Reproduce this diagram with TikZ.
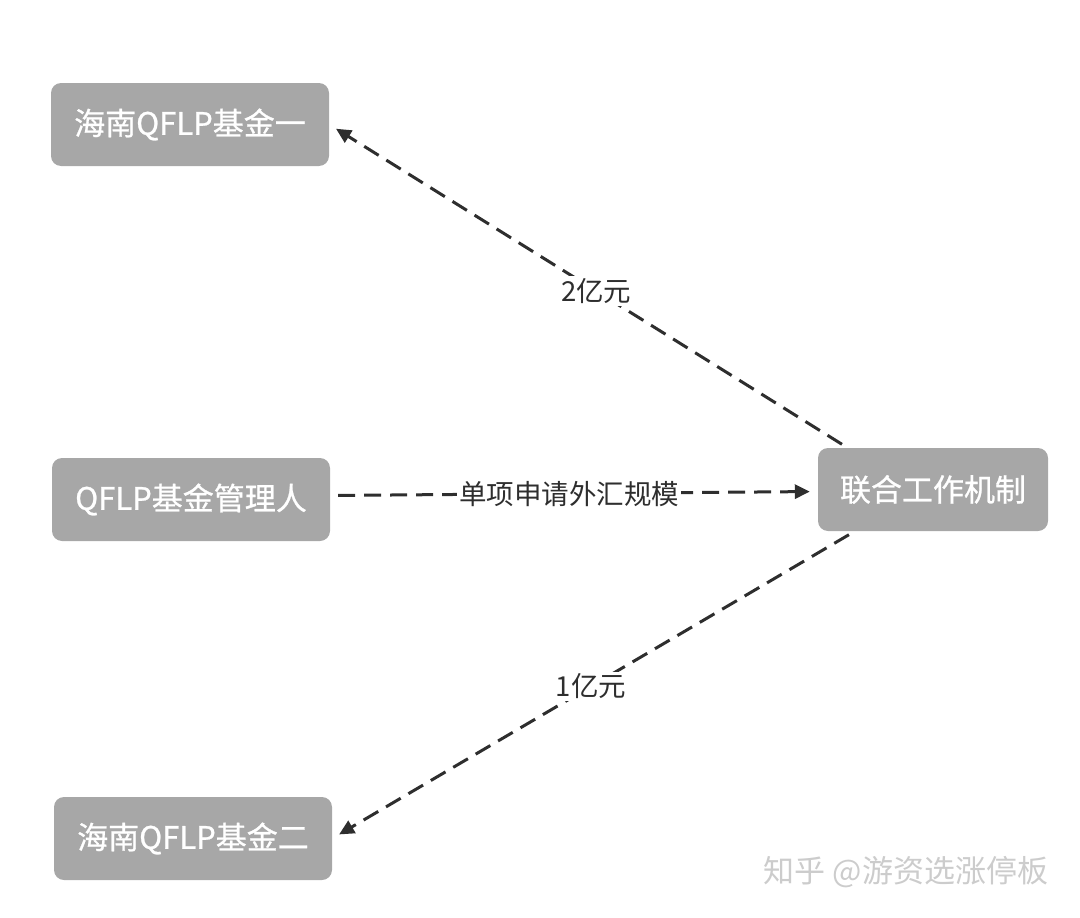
\documentclass[tikz,border=0pt]{standalone}
\usepackage{fontspec}
\setmainfont{Noto Sans CJK SC}
\newfontfamily\boxfont[FakeBold=0.8]{Noto Sans CJK SC}
\usetikzlibrary{arrows.meta}
\definecolor{boxgray}{HTML}{A7A7A7}
\definecolor{linegray}{HTML}{2E2E2E}
\tikzset{
  fundbox/.style={fill=boxgray, rounded corners=10pt, minimum height=83pt, text=white, font=\fontsize{31}{34}\boxfont},
  flow/.style={draw=linegray, line width=3pt, dash pattern=on 17pt off 9pt, -{Triangle[length=15pt,width=14pt]}, shorten >=8pt, shorten <=1pt},
  amount/.style={fill=white, text=linegray, inner sep=2pt, font=\fontsize{27.5}{30}\selectfont}
}
\begin{document}
\begin{tikzpicture}[x=1pt,y=-1pt]
\useasboundingbox (0,0) rectangle (1080,918);

% boxes
\node[fundbox, minimum width=278pt] (fund1) at (190,124.5) {海南QFLP基金一};
\node[fundbox, minimum width=278pt] (mgr) at (191,499.5) {QFLP基金管理人};
\node[fundbox, minimum width=230pt] (jlm) at (933,489.5) {联合工作机制};
\node[fundbox, minimum width=278pt] (fund2) at (193,838.5) {海南QFLP基金二};

% flows
\draw[flow] ([xshift=25pt,yshift=3pt]jlm.north west) -- (fund1.east) node[amount, pos=0.48] {2亿元}; % 2
\draw[flow, shorten <=8pt] ([yshift=4pt]mgr.east) -- ([yshift=-2pt]jlm.west) node[amount, pos=0.49] {单项申请外汇规模};
\draw[flow] ([xshift=32pt,yshift=-3pt]jlm.south west) -- (fund2.east) node[amount, pos=0.50] {1亿元}; % 1

% watermark
\node[text=black!20, font=\fontsize{31}{34}\selectfont] (mark) at (906,872) {知乎 @游资选涨停板};

\end{tikzpicture}
\end{document}
